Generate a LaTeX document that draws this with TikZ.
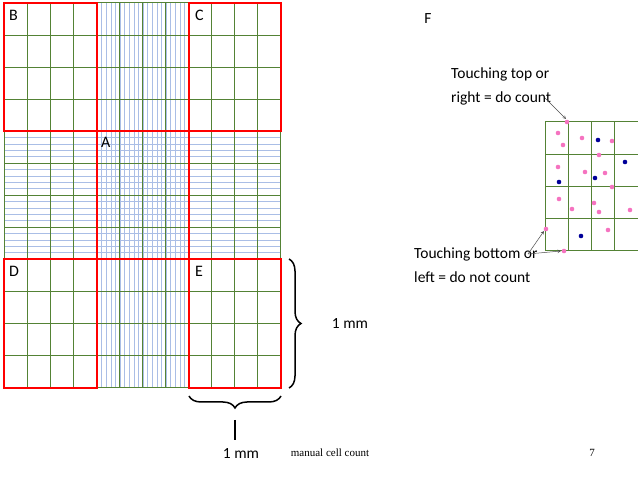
\documentclass[tikz,border=0pt]{standalone}
\usepackage{fontspec}
\setmainfont{Carlito}
\newfontfamily\serifx{Liberation Serif}
\usetikzlibrary{decorations.pathreplacing}
\definecolor{gridgreen}{RGB}{84,130,53}
\definecolor{gridblue}{RGB}{170,190,230}
\begin{document}
\begin{tikzpicture}[x=1pt,y=-1pt,
  blu/.style={draw=gridblue,line width=0.5pt},
  grn/.style={draw=gridgreen,line width=1pt},
  redbox/.style={draw=red,line width=1.8pt},
  lbl/.style={font=\fontsize{16}{19}\selectfont,anchor=north west,inner sep=0pt},
  txt/.style={font=\fontsize{15.5}{24}\selectfont,align=left,inner sep=0pt},
  pk/.style={fill=magenta!55!white},
  bl/.style={fill=blue!60!black},
  arr/.style={->,>=stealth,draw=black!70,line width=0.5pt}]
\useasboundingbox (0,0) rectangle (638,478);
\foreach \i in {0,...,20} \draw[blu] ({97+\i*4.6},3) -- ({97+\i*4.6},388);
\foreach \i in {0,...,20} \draw[blu] (4,{131+\i*6.4}) -- (281,{131+\i*6.4});
\foreach \i in {0,...,12} \draw[grn] ({4+\i*23.083},3) -- ({4+\i*23.083},388);
\foreach \i in {0,...,12} \draw[grn] (4,{3+\i*32.083}) -- (281,{3+\i*32.083});
\draw[redbox] (4,3) rectangle (97,131);
\draw[redbox] (189,3) rectangle (281,131);
\draw[redbox] (97,131) rectangle (189,259);
\draw[redbox] (4,259) rectangle (97,388);
\draw[redbox] (189,259) rectangle (281,388);
\node[lbl] (lB) at (9,10) {B};
\node[lbl] (lC) at (195,10) {C};
\node[lbl] (lA) at (101,137) {A};
\node[lbl] (lD) at (9,266) {D};
\node[lbl] (lE) at (195,266) {E};
\coordinate (r1) at (289,259); \coordinate (r2) at (289,388);
\draw[line width=1.5pt,decorate,decoration={brace,amplitude=12pt}] (r1) -- (r2);
\node[txt] (m1) at (350,324) {1 mm};
\coordinate (b1) at (189,396); \coordinate (b2) at (281,396);
\draw[line width=1.5pt,decorate,decoration={brace,mirror,amplitude=12pt}] (b1) -- (b2);
\draw[line width=1.5pt] (235,420) -- (235,440);
\node[txt] (m2) at (241,454) {1 mm};
\node[font=\serifx\fontsize{11}{12}\selectfont] (foot) at (330,453) {manual cell count};
\node[font=\serifx\fontsize{11}{12}\selectfont] (pg) at (592,453) {7};
\node[txt] (lF) at (428,19) {F};
\foreach \i in {0,...,4} \draw[grn] ({545+\i*23.25},122) -- ({545+\i*23.25},251);
\foreach \i in {0,...,4} \draw[grn] (545,{122+\i*32.25}) -- (638,{122+\i*32.25});
\foreach \p in {(558,133),(563,145),(582,138),(612,141),(599,155),(558,167),(585,172),(605,173),(612,187),(559,199),(572,209),(594,203),(599,212),(630,210),(608,230)}
  \fill[pk] \p circle (2.3pt);
\fill[pk] (567,122) circle (2.3pt) coordinate (dt);
\fill[pk] (546,229) circle (2.3pt) coordinate (dl);
\fill[pk] (564,251) circle (2.3pt) coordinate (db);
\foreach \p in {(598,140),(625,162),(559,182),(595,178),(581,236)}
  \fill[bl] \p circle (2.3pt);
\node[txt,anchor=west] (t1) at (451,86) {Touching top or\\right = do count};
\node[txt,anchor=west] (t2) at (414,265) {Touching bottom or\\left = do not count};
\coordinate (a1) at (545,98);
\coordinate (a2) at (528,254);
\draw[arr] (a1) -- ([shift={(-1,-3)}]dt);
\draw[arr] (a2) -- ([shift={(-2,2)}]dl);
\draw[arr] (a2) -- ([shift={(-3,0)}]db);
\end{tikzpicture}
\end{document}
